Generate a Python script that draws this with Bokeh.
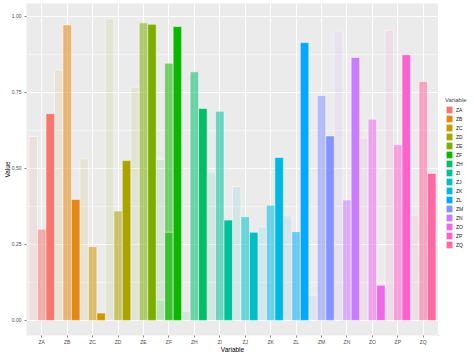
import math
from bokeh.plotting import figure
from bokeh.layouts import row
from bokeh.models import (ColumnDataSource, Range1d, FixedTicker, Legend, LegendItem,
                          PrintfTickFormatter)
from bokeh.embed import file_html
from bokeh.resources import INLINE

# ---- data ----
categories = ["ZA", "ZB", "ZC", "ZD", "ZE", "ZF", "ZH", "ZI", "ZJ", "ZK",
              "ZL", "ZM", "ZN", "ZO", "ZP", "ZQ"]
faint_values = [0.605, 0.824, 0.532, 0.993, 0.767, 0.529, 0.030, 0.488,
                0.440, 0.308, 0.344, 0.083, 0.952, 0.599, 0.954, 0.346]
mid_values = [0.300, 0.972, 0.243, 0.360, 0.979, 0.846, 0.818, 0.688,
              0.341, 0.379, 0.292, 0.740, 0.396, 0.662, 0.578, 0.786]
full_values = [0.680, 0.398, 0.024, 0.526, 0.974, 0.967, 0.697, 0.330,
               0.290, 0.536, 0.914, 0.607, 0.865, 0.116, 0.874, 0.483]
extra_faint_cats = ["ZF"]
extra_faint_values = [0.067]
extra_mid_cats = ["ZF"]
extra_mid_values = [0.290]
alpha_levels = [0.1, 0.55, 1.0]
y_ticks = [0.0, 0.25, 0.5, 0.75, 1.0]


def hcl_hex(h, c=100.0, l=65.0):
    Xn, Yn, Zn = 95.047, 100.0, 108.883
    den = Xn + 15 * Yn + 3 * Zn
    un, vn = 4 * Xn / den, 9 * Yn / den
    hr = math.radians(h)
    U, V = c * math.cos(hr), c * math.sin(hr)
    Y = Yn * ((l + 16) / 116.0) ** 3
    u = U / (13 * l) + un
    v = V / (13 * l) + vn
    X = 9.0 * Y * u / (4 * v)
    Z = -X / 3 - 5 * Y + 3 * Y / v
    X, Y, Z = X / 100, Y / 100, Z / 100
    r = 3.240479 * X - 1.537150 * Y - 0.498535 * Z
    g = -0.969256 * X + 1.875992 * Y + 0.041556 * Z
    b = 0.055648 * X - 0.204043 * Y + 1.057311 * Z

    def gam(t):
        t = 1.055 * t ** (1 / 2.4) - 0.055 if t > 0.0031308 else 12.92 * t
        return int(round(min(max(t, 0.0), 1.0) * 255))
    return "#%02X%02X%02X" % (gam(r), gam(g), gam(b))


n = len(categories)
palette = {cat: hcl_hex(15 + 360.0 * i / n) for i, cat in enumerate(categories)}
pos = {cat: i + 1 for i, cat in enumerate(categories)}

ymax = max(faint_values + mid_values + full_values + extra_faint_values + extra_mid_values)
pad = 0.05 * ymax

p = figure(width=438, height=355, output_backend="svg", toolbar_location=None,
           x_range=Range1d(0.4, n + 0.6), y_range=Range1d(-pad, ymax + pad),
           min_border_left=0, min_border_right=0, min_border_top=3, min_border_bottom=0)
p.background_fill_color = "#EBEBEB"
p.border_fill_color = "white"
p.outline_line_color = None

bar_w = 1.0 / 3.0
offsets = [-bar_w, 0.0, bar_w]


def bar_source(cats, vals, level):
    return ColumnDataSource(dict(
        x=[pos[c] + offsets[level] for c in cats],
        top=vals,
        color=[palette[c] for c in cats],
    ))


def add_bars(fig, cats, vals, level):
    return fig.vbar(x="x", top="top", bottom=0, width=bar_w,
                    source=bar_source(cats, vals, level),
                    fill_color="color", fill_alpha=alpha_levels[level],
                    line_color="white", line_width=0.5)


add_bars(p, categories, faint_values, 0)
add_bars(p, extra_faint_cats, extra_faint_values, 0)
add_bars(p, categories, mid_values, 1)
add_bars(p, extra_mid_cats, extra_mid_values, 1)
add_bars(p, categories, full_values, 2)

# axes
p.xaxis.ticker = FixedTicker(ticks=list(range(1, n + 1)))
p.xaxis.major_label_overrides = {i + 1: c for i, c in enumerate(categories)}
p.yaxis.ticker = FixedTicker(ticks=y_ticks,
                             minor_ticks=[0.125, 0.375, 0.625, 0.875])
p.yaxis.formatter = PrintfTickFormatter(format="%.2f")
p.xaxis.axis_label = "Variable"
p.yaxis.axis_label = "Value"
for ax in (p.xaxis, p.yaxis):
    ax.axis_line_color = None
    ax.major_tick_line_color = "#333333"
    ax.major_tick_line_width = 0.6
    ax.major_tick_out = 2
    ax.major_tick_in = 0
    ax.minor_tick_line_color = None
    ax.major_label_text_font_size = "5px"
    ax.major_label_text_color = "#4D4D4D"
    ax.major_label_text_font = "Liberation Sans"
    ax.major_label_text_line_height = 0.9
    ax.major_label_standoff = 1
    ax.axis_label_text_font_size = "6.5px"
    ax.axis_label_text_font_style = "normal"
    ax.axis_label_text_font = "Liberation Sans"
    ax.axis_label_text_color = "black"
    ax.axis_label_text_line_height = 0.9
    ax.axis_label_standoff = -2

p.xgrid.ticker = FixedTicker(ticks=list(range(1, n + 1)))
p.xgrid.grid_line_color = "white"
p.xgrid.grid_line_width = 0.9
p.ygrid.grid_line_color = "white"
p.ygrid.grid_line_width = 0.9
p.ygrid.minor_grid_line_color = "white"
p.ygrid.minor_grid_line_width = 0.45

# legend in its own narrow figure to the right
lp = figure(width=36, height=355, output_backend="svg", toolbar_location=None,
            x_range=Range1d(100, 101), y_range=Range1d(100, 101),
            x_axis_location=None, y_axis_location=None,
            min_border=0)
lp.outline_line_color = None
lp.background_fill_color = "white"
lp.border_fill_color = "white"
lp.xgrid.visible = False
lp.ygrid.visible = False
key_r = add_bars(lp, categories, full_values, 2)

items = [LegendItem(label=c, renderers=[key_r], index=i) for i, c in enumerate(categories)]
legend = Legend(items=items, location=(7, 86), title="Variable",
                title_text_font_size="6px", title_text_font_style="normal",
                title_text_font="Liberation Sans", title_standoff=2,
                label_text_font_size="5px", label_text_font="Liberation Sans",
                label_text_color="#1A1A1A",
                glyph_width=8, glyph_height=9, label_height=9, label_standoff=3,
                spacing=0, padding=2, margin=0,
                border_line_color=None, background_fill_alpha=0)
lp.add_layout(legend, "center")

layout = row(p, lp, spacing=0)
open("out.html", "w").write(file_html(layout, INLINE))
